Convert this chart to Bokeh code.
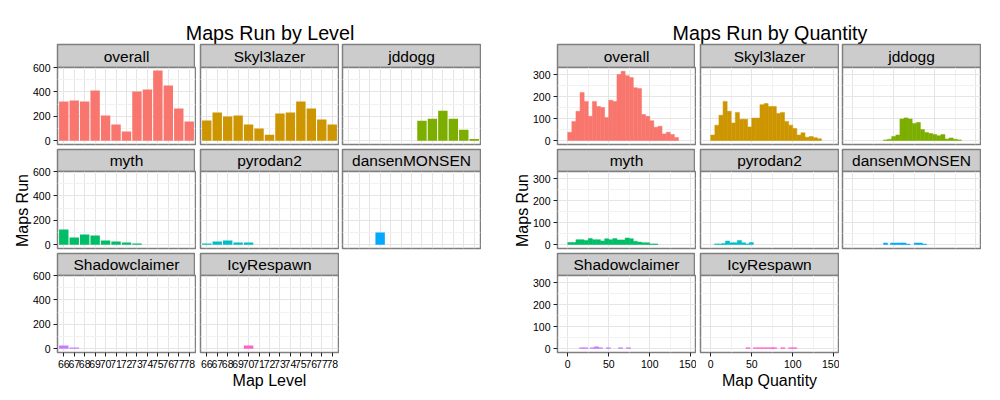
from bokeh.plotting import figure
from bokeh.layouts import row, column
from bokeh.models import FactorRange, FixedTicker, Label, Spacer, Range1d
from bokeh.embed import file_html
from bokeh.resources import INLINE

FONT = "Liberation Sans"
players = ["overall", "Skyl3lazer", "jddogg", "myth", "pyrodan2", "dansenMONSEN", "Shadowclaimer", "IcyRespawn"]
colors = ["#F8766D", "#CD9600", "#7CAE00", "#00BE67", "#00BFC4", "#00A9FF", "#C77CFF", "#FF61CC"]

map_levels = ["66", "67", "68", "69", "70", "71", "72", "73", "74", "75", "76", "77", "78"]
level_overall = [322, 330, 322, 412, 207, 133, 76, 404, 420, 576, 453, 264, 158]
level_skyl = [166, 232, 199, 207, 133, 100, 50, 223, 232, 322, 264, 174, 133]
level_jddogg = [0, 0, 0, 0, 0, 0, 0, 164, 180, 246, 180, 90, 16]
level_myth = [126, 60, 85, 77, 36, 27, 19, 11, 0, 0, 0, 0, 0]
level_pyrodan = [11, 27, 36, 19, 19, 0, 0, 0, 0, 0, 0, 0, 0]
level_dansen = [0, 0, 0, 100, 0, 0, 0, 0, 0, 0, 0, 0, 0]
level_shadow = [27, 11, 0, 0, 0, 0, 0, 0, 0, 0, 0, 0, 0]
level_icy = [0, 0, 0, 0, 27, 0, 0, 0, 0, 0, 0, 0, 0]
level_series = [level_overall, level_skyl, level_jddogg, level_myth, level_pyrodan, level_dansen, level_shadow, level_icy]

BIN = 5
qty_overall = [38, 87, 133, 218, 178, 110, 178, 155, 150, 105, 183, 178, 300, 315, 295, 286, 240, 236, 118, 110, 90, 60, 65, 30, 38, 28, 14]
left_overall = [0, 5, 10, 15, 20, 25, 30, 35, 40, 45, 50, 55, 60, 65, 70, 75, 80, 85, 90, 95, 100, 105, 110, 115, 120, 125, 130]
qty_skyl = [25, 70, 115, 178, 133, 80, 128, 97, 97, 62, 102, 102, 163, 168, 155, 155, 123, 128, 87, 70, 55, 25, 35, 15, 18, 13, 8]
left_skyl = left_overall
qty_jddogg = [3, 6, 18, 25, 98, 103, 98, 78, 82, 50, 36, 32, 28, 22, 27, 7, 12, 6, 3]
left_jddogg = [37.5, 42.5, 47.5, 52.5, 57.5, 62.5, 67.5, 72.5, 77.5, 82.5, 87.5, 92.5, 97.5, 102.5, 107.5, 112.5, 117.5, 122.5, 127.5]
qty_myth = [9, 9, 22, 22, 18, 27, 22, 22, 16, 26, 22, 27, 21, 21, 30, 26, 15, 11, 8, 8, 3, 3]
left_myth = left_overall[:22]
qty_pyrodan = [3, 3, 5, 16, 8, 8, 18, 8, 3, 9]
left_pyrodan = [4.5, 9.5, 14, 18, 23, 27.5, 32.5, 37.5, 42.5, 47]
qty_dansen = [7, 7, 7, 7, 7, 2, 7, 7, 2]
left_dansen = [37.5, 46, 51, 56, 60, 65, 75, 80, 85]
qty_shadow = [4, 4, 4, 8, 4, 4, 4, 4]
left_shadow = [14.5, 19.5, 27.5, 32.5, 37.5, 47, 62, 71.5]
qty_icy = [4, 4, 4, 4, 4, 4, 4, 4, 4, 4]
left_icy = [43, 52, 57, 62, 67, 72, 75.5, 85.5, 95, 100]
qty_series = [(left_overall, qty_overall), (left_skyl, qty_skyl), (left_jddogg, qty_jddogg), (left_myth, qty_myth),
              (left_pyrodan, qty_pyrodan), (left_dansen, qty_dansen), (left_shadow, qty_shadow), (left_icy, qty_icy)]

level_y_ticks = [0, 200, 400, 600]
level_y_minor = [100, 300, 500]
qty_y_ticks = [0, 100, 200, 300]
qty_y_minor = [50, 150, 250]
qty_x_ticks = [0, 50, 100, 150]
qty_x_minor = [25, 75, 125]

FW, SGAP = 138, 3
AXIS_L = 27
BORDER = "#7F7F7F"
PAD = 8


def text_fig(w, h, text, x, y, size, angle=0, margin=(0, 0, 0, 0)):
    p = figure(width=w, height=h, x_range=Range1d(0, w), y_range=Range1d(0, h), x_axis_type=None, y_axis_type=None,
               toolbar_location=None, output_backend="svg", min_border=0, outline_line_color=None,
               border_fill_color=None, background_fill_color=None, margin=margin)
    p.grid.visible = False
    p.add_layout(Label(x=x, y=y, text=text, text_font=FONT, text_font_size=size, text_color="black",
                       text_align="center", text_baseline="middle", angle=angle))
    return p


def strip(name, fh, left):
    p = figure(frame_width=FW, frame_height=fh, x_range=Range1d(0, 1), y_range=Range1d(0, 1), x_axis_type=None,
               y_axis_type=None, toolbar_location=None, output_backend="svg", min_border_left=left, min_border_right=1,
               min_border_top=1, min_border_bottom=1, background_fill_color="#CCCCCC", border_fill_color=None,
               outline_line_color=BORDER, outline_line_width=1.5, margin=(0, 0, -1, 0))
    p.grid.visible = False
    p.add_layout(Label(x=0.5, y=0.5, text=name, text_font=FONT, text_font_size="15.5px", text_color="black",
                       text_align="center", text_baseline="middle"))
    return p


def style(p, ax_l, ax_b, yt, ym):
    p.outline_line_color = BORDER
    p.outline_line_width = 1.5
    p.yaxis.ticker = FixedTicker(ticks=yt)
    p.ygrid.ticker = FixedTicker(ticks=yt, minor_ticks=ym)
    p.ygrid.grid_line_color = "#E5E5E5"
    p.ygrid.minor_grid_line_color = "#F2F2F2"
    p.xgrid.grid_line_color = "#E5E5E5"
    for ax in (p.xaxis[0], p.yaxis[0]):
        ax.axis_line_color = None
        ax.major_tick_line_color = "#222222"
        ax.major_tick_in = 0
        ax.major_tick_out = 4
        ax.minor_tick_line_color = None
        ax.major_label_text_font = FONT
        ax.major_label_text_font_size = "10.5px"
        ax.major_label_text_color = "black"
        ax.major_label_standoff = 3
    p.xaxis.visible = ax_b
    p.yaxis.visible = ax_l


def panel(left, ax_b, xr, yr):
    bottom = 20 if ax_b else PAD
    bottom_margin = 0 if ax_b else 1 - PAD
    return figure(frame_width=FW, frame_height=77, x_range=xr, y_range=yr, toolbar_location=None,
                  output_backend="svg", min_border_left=left, min_border_right=1, min_border_top=PAD,
                  min_border_bottom=bottom, background_fill_color="white", border_fill_color=None,
                  margin=(-PAD, 0, bottom_margin, 0))


def level_panel(i, ax_l, ax_b):
    xr = FactorRange(factors=map_levels, range_padding=0.1, range_padding_units="absolute")
    p = panel(AXIS_L if ax_l else 1, ax_b, xr, Range1d(-30, 600))
    xs = [c for c, v in zip(map_levels, level_series[i]) if v > 0]
    ys = [v for v in level_series[i] if v > 0]
    p.vbar(x=xs, top=ys, bottom=0, width=0.9, fill_color=colors[i], line_color=None)
    style(p, ax_l, ax_b, level_y_ticks, level_y_minor)
    return p


def qty_panel(i, ax_l, ax_b):
    p = panel(AXIS_L if ax_l else 1, ax_b, Range1d(-12.5, 155.8), Range1d(-18, 332))
    lefts, vals = qty_series[i]
    p.quad(left=lefts, right=[v + BIN for v in lefts], top=vals, bottom=0, fill_color=colors[i],
           line_color=colors[i], line_width=0.5)
    style(p, ax_l, ax_b, qty_y_ticks, qty_y_minor)
    p.xaxis.ticker = FixedTicker(ticks=qty_x_ticks)
    p.xgrid.ticker = FixedTicker(ticks=qty_x_ticks, minor_ticks=qty_x_minor)
    p.xgrid.minor_grid_line_color = "#F2F2F2"
    return p


def block(make, title, xlabel):
    cols = []
    for c in range(3):
        L = c == 0
        kids = []
        for r in range(3):
            i = r * 3 + c
            if i >= len(players):
                continue
            bottom_axis = r == 2
            kids.append(strip(players[i], 23 if r == 0 else 22, AXIS_L if L else 1))
            kids.append(make(i, L, bottom_axis))
            if r < 2:
                kids.append(Spacer(width=10, height=SGAP))
        cols.append(column(*kids, spacing=0))
    ylab = text_fig(22 + PAD, 329, "Maps Run", 15, 162, "16px", angle=1.5708, margin=(0, -PAD, 0, 0))
    body = row(ylab, cols[0], Spacer(width=3, height=10),
               cols[1], Spacer(width=2, height=10), cols[2], spacing=0)
    head = text_fig(473, 35 + PAD, title, 262.5, 19, "19.7px", margin=(0, 0, -PAD, 0))
    return column(head, body, text_fig(473, 20, xlabel, 262, 12, "16px"), spacing=0)


inner = row(Spacer(width=7, height=10), block(level_panel, "Maps Run by Level", "Map Level"), Spacer(width=26, height=10),
            block(qty_panel, "Maps Run by Quantity", "Map Quantity"), spacing=0)
page = column(Spacer(width=10, height=8), inner, spacing=0)
open("out.html", "w").write(file_html(page, INLINE))
